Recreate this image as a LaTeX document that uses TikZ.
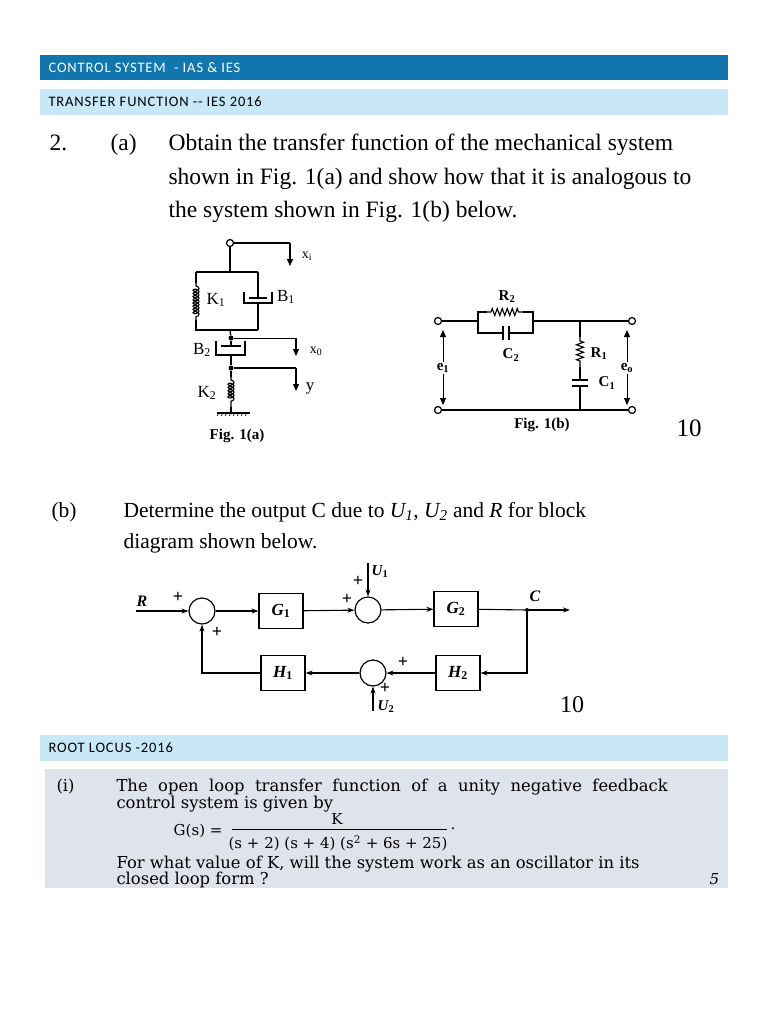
\documentclass[tikz,border=0pt]{standalone}
\usepackage{fontspec}
\setmainfont{Liberation Serif}
\newfontfamily\hdr[LetterSpace=6]{Carlito}
\newfontfamily\dvs{DejaVu Serif}
\usetikzlibrary{decorations.pathmorphing,arrows.meta}
\definecolor{dkbar}{HTML}{1276AE}
\definecolor{ltbar}{HTML}{C8E8F8}
\definecolor{graybox}{HTML}{DFE4EC}
\tikzset{
 hd/.style={anchor=west,font=\hdr\fontsize{14.5}{16}\selectfont},
 qt/.style={anchor=base west,font=\fontsize{23.5}{26}\selectfont},
 bt/.style={anchor=base west,font=\fontsize{21.5}{24}\selectfont},
 lb/.style={font=\fontsize{17}{18}\selectfont,inner sep=1pt},
 cl/.style={font=\bfseries\fontsize{15}{16}\selectfont,inner sep=1pt},
 wire/.style={line width=1.3pt},
 arr/.style={line width=1.3pt,-{Triangle[length=7pt,width=6pt]}},
 term/.style={circle,draw,line width=1.2pt,fill=white,inner sep=0pt,minimum size=7pt},
 dot/.style={circle,fill,inner sep=0pt,minimum size=5pt},
 spr/.style={line width=1.1pt,decorate,decoration={coil,aspect=0.6,amplitude=3pt,segment length=3.2pt,pre length=3pt,post length=3pt}},
 res/.style={line width=1.1pt,decorate,decoration={zigzag,amplitude=3.5pt,segment length=5pt,pre length=4pt,post length=4pt}},
 blk/.style={draw,line width=1.2pt,minimum width=44pt,minimum height=35pt,font=\bfseries\itshape\fontsize{17}{18}\selectfont},
 sm/.style={circle,draw,line width=1.2pt,minimum size=26pt,inner sep=0pt},
 bar/.style={-{Stealth[length=7pt,width=5pt]},line width=1.1pt},
 pl/.style={font=\bfseries\fontsize{18}{19}\selectfont,inner sep=0pt},
 rl/.style={anchor=base west,font=\dvs\fontsize{16.4}{18}\selectfont}
}
\begin{document}
\begin{tikzpicture}[x=1pt,y=-1pt]
\useasboundingbox[fill=white] (0,0) rectangle (768,1024);
% header bars
\fill[dkbar] (40,55) rectangle (728,80);
\node[hd,text=white] (h1) at (45,67.5) {CONTROL SYSTEM \ - IAS \& IES};
\fill[ltbar] (40,89) rectangle (728,115);
\node[hd] (h2) at (45,102) {TRANSFER FUNCTION -- IES 2016};
% question text
\node[qt] (q2) at (46,151) {2.};
\node[qt] (qa) at (107,151) {(a)};
\node[qt] (ql1) at (165,151) {Obtain the transfer function of the mechanical system};
\node[qt] (ql2) at (165,185) {shown in Fig. 1(a) and show how that it is analogous to};
\node[qt] (ql3) at (165,218) {the system shown in Fig. 1(b) below.};
% ---- mechanical system
\coordinate (xt) at (230,243);
\coordinate (bt) at (230,272);
\coordinate (bl) at (196,272);
\coordinate (br) at (258,272);
\coordinate (bbl) at (196,330);
\coordinate (bbr) at (258,330);
\coordinate (nb) at (230,330);
\draw[wire] (xt) -- (bt);
\draw[wire] (bl) -- (br);
\draw[wire] (bl) -- (196,283);
\draw[spr] (196,283) -- (196,320);
\draw[wire] (196,320) -- (bbl) -- (bbr);
\draw[wire] (br) -- (258,298);
\draw[wire] (249,298) -- (267,298);
\draw[wire] (244,292) -- (244,303) -- (272,303) -- (272,292);
\draw[wire] (258,303) -- (bbr);
\node[lb] (k1) at (216,300) {K\textsubscript{1}};
\node[lb] (b1) at (286,297) {B\textsubscript{1}};
\node[dot] (n1) at (231,338) {};
\draw[wire] (nb) -- (n1);
\draw[wire] (n1) -- (231,346);
\draw[wire] (221,346) -- (241,346);
\draw[wire] (216,341) -- (216,355) -- (245,355) -- (245,341);
\node[dot] (n2) at (231,368) {};
\draw[wire] (231,355) -- (n2);
\node[lb] (b2) at (202,350) {B\textsubscript{2}};
\draw[wire] (n2) -- (231,377);
\draw[spr] (231,377) -- (231,407);
\draw[wire] (231,407) -- (231,413);
\draw[line width=1.8pt] (217,413) -- (250,413);
\foreach \i in {219,223,...,249} \draw[line width=0.6pt] (\i,413) -- (\i-2,416);
\node[lb] (k2) at (207,393) {K\textsubscript{2}};
\node[term] (tx) at (xt) {};
\coordinate (ax) at (290,243);
\draw[wire] (tx) -- (ax);
\draw[arr] (ax) -- (290,266);
\node[lb,font=\fontsize{14}{15}\selectfont] (lxi) at (307,256) {x\textsubscript{i}};
\coordinate (a0) at (296,338);
\draw[wire,line width=0.8pt] (n1) -- (a0);
\draw[arr] (a0) -- (296,356);
\node[lb,font=\fontsize{14}{15}\selectfont] (lx0) at (316,351) {x\textsubscript{0}};
\coordinate (ay) at (296,368);
\draw[wire] (n2) -- (ay);
\draw[arr] (ay) -- (296,391);
\node[lb] (ly) at (310,388) {y};
\node[cl] (f1a) at (237,436) {Fig. 1(a)};
% ---- circuit
\node[term] (t1) at (438,321) {};
\node[term] (t2) at (632,321) {};
\node[term] (t3) at (438,410) {};
\node[term] (t4) at (632,410) {};
\coordinate (pl) at (478,321);
\coordinate (pr) at (533,321);
\coordinate (jn) at (580,321);
\coordinate (jb) at (580,410);
\draw[wire] (t1) -- (pl) (pr) -- (jn) -- (t2);
\draw[wire] (pl) -- (478,312) -- (487,312);
\draw[res] (487,312) -- (523,312);
\draw[wire] (523,312) -- (533,312) -- (pr);
\draw[wire] (pl) -- (478,333) -- (503,333) (503,326) -- (503,340);
\draw[wire] (509,326) -- (509,340) (509,333) -- (533,333) -- (pr);
\draw[wire] (jn) -- (580,337);
\draw[res] (580,337) -- (580,367);
\draw[wire] (580,367) -- (580,380);
\draw[wire] (572,380) -- (588,380) (572,386) -- (588,386);
\draw[wire] (580,386) -- (jb);
\draw[wire] (t3) -- (t4);
\node[cl] (lr2) at (507,297) {R\textsubscript{2}};
\node[cl] (lc2) at (511,355) {C\textsubscript{2}};
\node[cl] (lr1) at (599,354) {R\textsubscript{1}};
\node[cl] (lc1) at (607,383) {C\textsubscript{1}};
\node[cl] (le1) at (443,368) {e\textsubscript{1}};
\node[cl] (le0) at (627,368) {e\textsubscript{o}};
\draw[arr,line width=1pt] (le1.north) -- (443,330);
\draw[arr,line width=1pt] (le1.south) -- (443,405);
\draw[arr,line width=1pt] (le0.north) -- (627,330);
\draw[arr,line width=1pt] (le0.south) -- (627,405);
\node[cl] (f1b) at (542,425) {Fig. 1(b)};
\node[font=\fontsize{25}{27}\selectfont] (ten1) at (689,428) {10};
% ---- part (b)
\node[bt] (qb) at (48,517) {(b)};
\node[bt] (qbl1) at (120,517) {Determine the output C due to \textit{U\textsubscript{1}}, \textit{U\textsubscript{2}} and \textit{R} for block};
\node[bt] (qbl2) at (120,548) {diagram shown below.};
\coordinate (rin) at (136,611);
\node[sm] (s1) at (202,611) {};
\node[blk] (g1) at (281,611) {G$_{\mathbf 1}$};
\node[sm] (s2) at (368,610) {};
\node[blk] (g2) at (456,609) {G$_{\mathbf 2}$};
\node[dot,minimum size=4pt] (pk) at (527,610) {};
\coordinate (cout) at (570,610);
\node[blk] (h2b) at (458,673) {H$_{\mathbf 2}$};
\node[sm] (s3) at (373,673) {};
\node[blk] (h1b) at (283,673) {H$_{\mathbf 1}$};
\coordinate (u1) at (368,563);
\coordinate (u2) at (373,711);
\draw[bar] (rin) -- (s1);
\draw[bar] (s1) -- (g1);
\draw[bar] (g1) -- (s2);
\draw[bar] (u1) -- (s2);
\draw[bar] (s2) -- (g2);
\draw[line width=1.1pt] (g2) -- (pk);
\draw[bar] (pk) -- (cout);
\draw[bar] (pk) |- (h2b);
\draw[bar] (h2b) -- (s3);
\draw[bar] (u2) -- (s3);
\draw[bar] (s3) -- (h1b);
\draw[bar] (h1b) -| (s1);
\node[pl,font=\bfseries\itshape\fontsize{16}{17}\selectfont] (lR) at (142,601) {R};
\node[pl] (p1) at (178,597) {+};
\node[pl] (p2) at (217,632) {+};
\node[pl] (p3) at (347,599) {+};
\node[pl] (p4) at (358,581) {+};
\node[pl,font=\bfseries\itshape\fontsize{15}{16}\selectfont] (lu1) at (380,572) {U$_{\mathbf 1}$};
\node[pl,font=\bfseries\itshape\fontsize{16}{17}\selectfont] (lC) at (535,596) {C};
\node[pl] (p5) at (403,662) {+};
\node[pl] (p6) at (385,688) {+};
\node[pl,font=\bfseries\itshape\fontsize{15}{16}\selectfont] (lu2) at (386,707) {U$_{\mathbf 2}$};
\node[font=\fontsize{24}{26}\selectfont] (ten2) at (572,705) {10};
% ---- root locus
\fill[ltbar] (40,735) rectangle (728,761);
\node[hd] (h3) at (45,748) {ROOT LOCUS -2016};
\fill[graybox] (45,769) rectangle (728,888);
\node[rl] (ri) at (53,791) {(i)};
\node[rl] (rl1) at (113,791) {The\ \ open\ \ loop\ \ transfer\ \ function\ \ of\ \ a\ \ unity\ \ negative\ \ feedback};
\node[rl] (rl2) at (113,808) {control system is given by};
\node[font=\dvs\fontsize{15}{17}\selectfont,anchor=east] (gs) at (226,831) {G(s) =};
\node[font=\dvs\fontsize{15}{17}\selectfont] (kn) at (337,819) {K};
\draw[line width=0.6pt] (232,829) -- (447,829);
\node[font=\dvs\fontsize{15}{17}\selectfont] (den) at (338,843) {(s + 2) (s + 4) (s\textsuperscript{2} + 6s + 25)};
\node[font=\dvs\fontsize{15}{17}\selectfont] (dotp) at (453,829) {.};
\node[rl] (rl3) at (113,868) {For what value of K, will the system work as an oscillator in its};
\node[rl] (rl4) at (113,884) {closed loop form ?};
\node[rl,font=\dvs\itshape\fontsize{15}{17}\selectfont] (five) at (706,884) {5};
\end{tikzpicture}
\end{document}
